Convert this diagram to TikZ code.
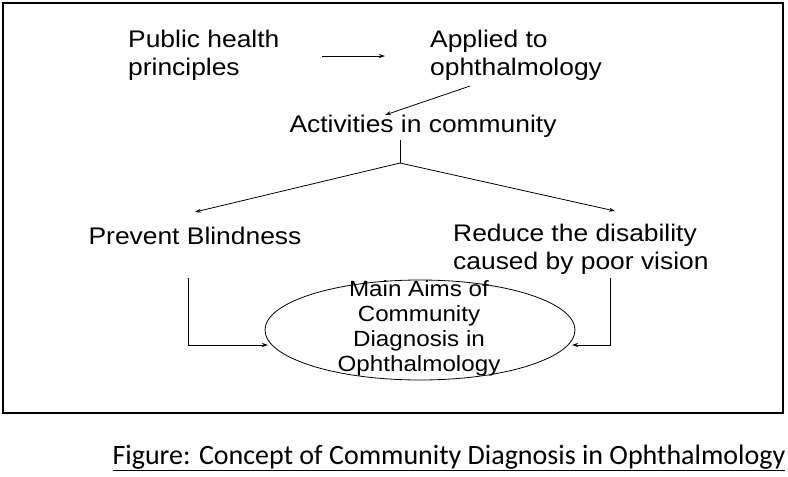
\documentclass[tikz,border=0pt]{standalone}
\usepackage{fontspec}
\setmainfont[FakeStretch=1.1]{Liberation Sans}
\newfontfamily\capfont{Carlito}
\usetikzlibrary{arrows.meta,shapes.geometric}
\begin{document}
\begin{tikzpicture}[x=1pt,y=-1pt,
  lbl/.style={font=\fontsize{24}{28}\selectfont,inner sep=0pt,align=left},
  arr/.style={-{Stealth[length=6pt,width=4pt]},line width=0.8pt}]
\useasboundingbox (0,0) rectangle (788,477);
\draw[line width=2.5pt] (3,3) rectangle (783,413);
\node[lbl,anchor=north west] (pub) at (128,30) {Public health\\principles};
\node[lbl,anchor=north west] (app) at (430,30) {Applied to\\ophthalmology};
\coordinate (p1) at (322,56); \coordinate (p2) at (385,56);
\draw[arr] (p1) -- (p2);
\node[lbl,anchor=center] (act) at (423,126) {Activities in community};
\coordinate (a1) at (470,86); \coordinate (a2) at (385,115);
\draw[arr] (a1) -- (a2);
\coordinate (v1) at (400,140); \coordinate (v2) at (400,163);
\coordinate (l) at (195,212); \coordinate (r) at (615,211);
\draw[line width=0.8pt] (v1) -- (v2);
\draw[arr] (v2) -- (l);
\draw[arr] (v2) -- (r);
\node[lbl,anchor=center] (pb) at (195,236) {Prevent Blindness};
\node[lbl,anchor=north west] (rd) at (453,224) {Reduce the disability\\caused by poor vision};
\node[draw,ellipse,line width=0.8pt,minimum width=310pt,minimum height=100pt] (el) at (420,330) {};
\node[font=\fontsize{22}{25}\selectfont,align=center,inner sep=0pt] (aim) at (419,328) {Main Aims of\\Community\\Diagnosis in\\Ophthalmology};
\coordinate (lb) at (188,278); \coordinate (lc) at (188,345); \coordinate (le) at (268,345);
\draw[arr] (lb) -- (lc) -- (le);
\coordinate (rb) at (610,278); \coordinate (rc) at (610,345); \coordinate (re) at (572,345);
\draw[arr] (rb) -- (rc) -- (re);
\node[font=\capfont\fontsize{28}{32}\selectfont,inner sep=0pt] (cap) at (449,458) {\underline{Figure: Concept of Community Diagnosis in Ophthalmology}};
\end{tikzpicture}
\end{document}
